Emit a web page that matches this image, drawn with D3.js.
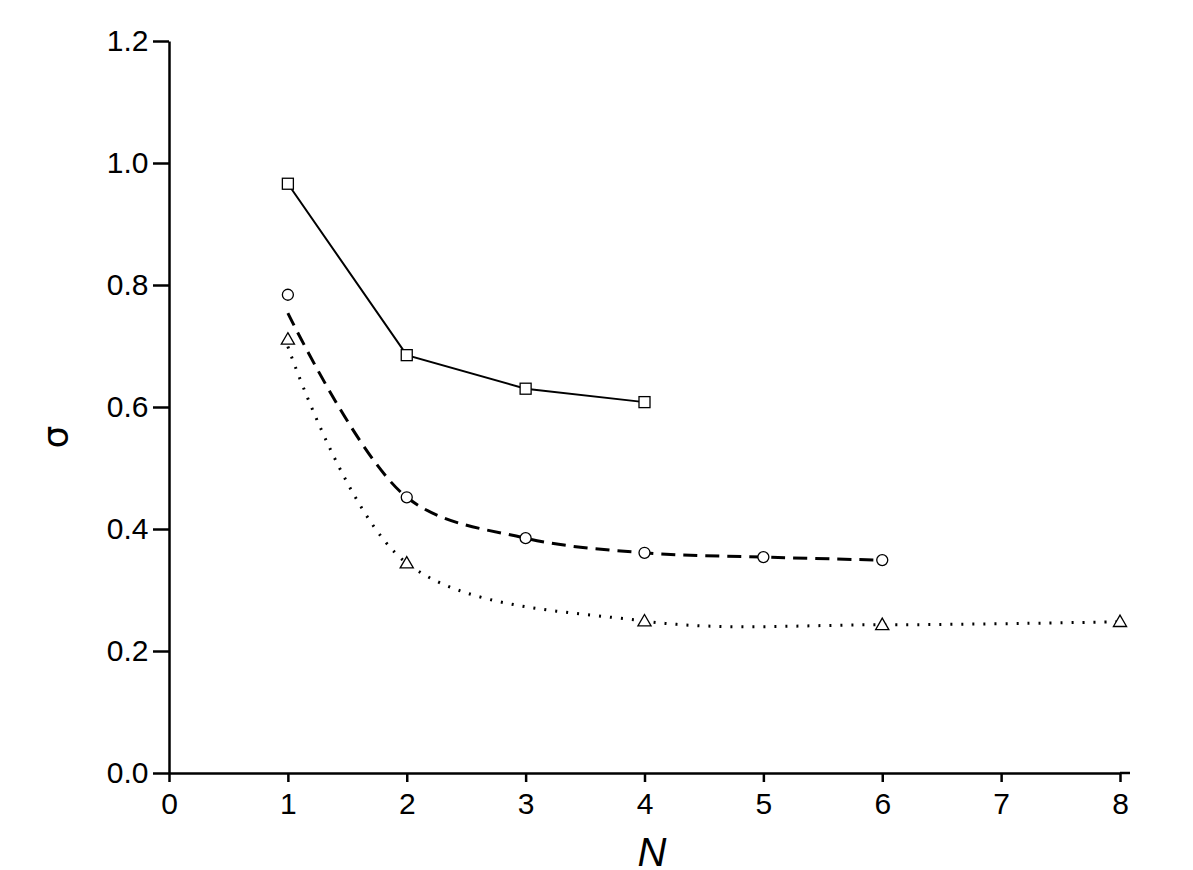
<!DOCTYPE html>
<html><head><meta charset="utf-8">
<script src="https://cdn.jsdelivr.net/npm/d3@7"></script>
<style>body{margin:0;background:#fff}</style></head>
<body><svg id="c" width="1193" height="870"></svg>
<script>
const sqN=[1,2,3,4], sqV=[0.966,0.685,0.630,0.608];
const ciN=[1,2,3,4,5,6], ciV=[0.784,0.452,0.385,0.361,0.354,0.349];
const trN=[1,2,4,6,8], trV=[0.711,0.344,0.249,0.243,0.248];
const xTicks=[0,1,2,3,4,5,6,7,8];
const yTicks=[0,0.2,0.4,0.6,0.8,1.0,1.2];
const svg=d3.select("#c");
const x=d3.scaleLinear().domain([0,8]).range([169,1120]);
const y=d3.scaleLinear().domain([0,1.2]).range([773,41]);
const font="Liberation Sans, Arial, sans-serif";
const xa=svg.append("g").attr("transform","translate(0,773)").call(d3.axisBottom(x).tickValues(xTicks).tickFormat(d3.format("d")).tickSize(9).tickSizeOuter(0));
const ya=svg.append("g").attr("transform","translate(169,0)").call(d3.axisLeft(y).tickValues(yTicks).tickFormat(d3.format(".1f")).tickSize(16).tickSizeOuter(0));
xa.append("line").attr("x1",x(8)).attr("x2",x(8)+10).attr("stroke","#000").attr("stroke-width",2.5);
[xa,ya].forEach(a=>{a.selectAll("path,line").attr("stroke","#000").attr("stroke-width",2.5);a.selectAll("text").attr("font-family",font).attr("font-size",30).attr("fill","#000");});
xa.selectAll("text").attr("dy","0.95em");
ya.selectAll("text").attr("dx","-0.05em");
const line=d3.line().x(d=>x(d[0])).y(d=>y(d[1])).curve(d3.curveCatmullRom.alpha(0.5));
const lin=d3.line().x(d=>x(d[0])).y(d=>y(d[1]));
function series(N,V,dash,w,gen){
  svg.append("path").datum(N.map((n,i)=>[n,V[i]])).attr("d",gen).attr("fill","none").attr("stroke","#000").attr("stroke-width",w).attr("stroke-dasharray",dash);
}
series(sqN,sqV,null,2,lin);
series(ciN,ciV.map((v,i)=>i==0?v-0.03:v),"14,8",3,line);
series(trN,trV.map((v,i)=>i==0?v-0.012:v),"2,9",3,line);
svg.selectAll(".sq").data(sqN).enter().append("rect").attr("x",(d)=>x(d)-5.5).attr("y",(d,i)=>y(sqV[i])-5.5).attr("width",11).attr("height",11).attr("fill","#fff").attr("stroke","#000").attr("stroke-width",1.3);
svg.selectAll(".ci").data(ciN).enter().append("circle").attr("cx",d=>x(d)).attr("cy",(d,i)=>y(ciV[i])).attr("r",5.5).attr("fill","#fff").attr("stroke","#000").attr("stroke-width",1.3);
svg.selectAll(".tr").data(trN).enter().append("path").attr("d",d3.symbol(d3.symbolTriangle,75)).attr("transform",(d,i)=>`translate(${x(d)},${y(trV[i])+1})`).attr("fill","#fff").attr("stroke","#000").attr("stroke-width",1.3);
svg.append("text").attr("x",652).attr("y",866).attr("text-anchor","middle").attr("font-family",font).attr("font-style","italic").attr("font-size",40).text("N");
svg.append("text").attr("transform","translate(68,437) rotate(-90)").attr("text-anchor","middle").attr("font-family","DejaVu Sans, sans-serif").attr("font-size",36).text("σ");
</script></body></html>
